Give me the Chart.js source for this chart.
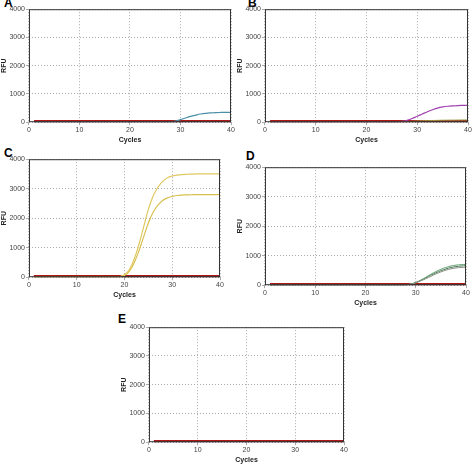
<!DOCTYPE html>
<html>
<head>
<script src="https://cdn.jsdelivr.net/npm/chart.js@4/dist/chart.umd.min.js"></script>
<style>
body { margin:0; background:#fff; font-family: "Liberation Sans", Arial, sans-serif; }
.panel { position:absolute; }
.lab { position:absolute; font-weight:bold; font-size:12px; }
</style>
</head>
<body>
<div class="lab" style="left:4px;top:-4px">A</div>
<div class="lab" style="left:248px;top:-4px">B</div>
<div class="lab" style="left:4px;top:146px">C</div>
<div class="lab" style="left:246px;top:149px">D</div>
<div class="lab" style="left:118px;top:312px">E</div>
<div class="panel" style="left:0;top:4px;width:237px;height:140px"><canvas id="cA"></canvas></div>
<div class="panel" style="left:236px;top:4px;width:238px;height:140px"><canvas id="cB"></canvas></div>
<div class="panel" style="left:0;top:154px;width:226px;height:145px"><canvas id="cC"></canvas></div>
<div class="panel" style="left:236px;top:162px;width:236px;height:145px"><canvas id="cD"></canvas></div>
<div class="panel" style="left:120px;top:322px;width:230px;height:142px"><canvas id="cE"></canvas></div>
<script>
var cycles = [1,2,3,4,5,6,7,8,9,10,11,12,13,14,15,16,17,18,19,20,21,22,23,24,25,26,27,28,29,30,31,32,33,34,35,36,37,38,39,40];
var threshold = [30,30,30,30,30,30,30,30,30,30,30,30,30,30,30,30,30,30,30,30,30,30,30,30,30,30,30,30,30,30,30,30,30,30,30,30,30,30,30,30];
var baseline = [0,0,0,0,0,0,0,0,0,0,0,0,0,0,0,0,0,0,0,0,0,0,0,0,0,0,0,0,0,0,0,0,0,0,0,0,0,0,0,0];
var aBlue = [0,0,0,0,0,0,0,0,0,0,0,0,0,0,0,0,0,0,0,0,0,0,0,0,0,0,0,10,40,90,150,205,250,290,315,330,340,345,348,350];
var bPurple = [0,0,0,0,0,0,0,0,0,0,0,0,0,0,0,0,0,0,0,0,0,0,0,0,0,10,30,70,130,210,290,370,440,500,540,565,580,590,595,600];
var bOlive = [0,0,0,0,0,0,0,0,0,0,0,0,0,0,0,0,0,0,0,0,0,0,0,0,0,0,10,20,30,40,50,55,60,65,70,72,74,76,78,80];
var cYellow1 = [0,0,0,0,0,0,0,0,0,0,0,0,0,0,0,0,0,0,20,80,250,600,1100,1700,2300,2750,3050,3250,3370,3430,3460,3480,3490,3495,3500,3500,3500,3500,3500,3500];
var cYellow2 = [0,0,0,0,0,0,0,0,0,0,0,0,0,0,0,0,0,0,15,60,200,480,880,1360,1840,2200,2440,2600,2690,2740,2770,2785,2790,2795,2800,2800,2800,2800,2800,2800];
var dGreen1 = [0,0,0,0,0,0,0,0,0,0,0,0,0,0,0,0,0,0,0,0,0,0,0,0,0,0,0,10,40,90,170,270,370,460,540,600,650,680,695,705];
var dGreen2 = [0,0,0,0,0,0,0,0,0,0,0,0,0,0,0,0,0,0,0,0,0,0,0,0,0,0,0,10,40,90,165,250,340,420,490,550,600,630,650,660];
var dGray = [0,0,0,0,0,0,0,0,0,0,0,0,0,0,0,0,0,0,0,0,0,0,0,0,0,0,0,8,35,80,145,220,300,380,450,510,555,585,600,610];
var yTicks = [0,1000,2000,3000,4000];

function ds(v, c, w) {
  return { data: v, borderColor: c, borderWidth: w || 1, pointRadius: 0, tension: 0.4, fill: false };
}
var boxPlugin = { id: 'box', afterDraw: function (ch) {
  var a = ch.chartArea, g = ch.ctx;
  g.save(); g.strokeStyle = '#333'; g.lineWidth = 1;
  g.strokeRect(a.left + 0.5, a.top + 0.5, a.right - a.left - 1, a.bottom - a.top - 1);
  g.restore();
} };
function axisOpts(min, max, title) {
  return {
    type: 'linear', min: min, max: max,
    ticks: { font: { size: 7 }, color: '#444', padding: 1, callback: function (v) { return String(v); } },
    grid: { color: '#aaa', tickLength: 3 },
    border: { display: false, dash: [1, 2] },
    title: { display: true, text: title, font: { size: 7, weight: 'bold' }, color: '#222', padding: 0 }
  };
}
function makeChart(id, curves) {
  var sets = [ds(baseline, '#333', 1)].concat(curves, [ds(threshold, '#b01818', 2.5)]);
  var x = axisOpts(0, 40, 'Cycles');
  x.ticks.stepSize = 10;
  var y = axisOpts(0, 4000, 'RFU');
  y.afterBuildTicks = function (ax) { ax.ticks = yTicks.map(function (v) { return { value: v }; }); };
  new Chart(document.getElementById(id), {
    type: 'line',
    data: { labels: cycles, datasets: sets.map(function (d) {
      d.data = d.data.map(function (v, i) { return { x: cycles[i], y: v }; }); return d; }) },
    options: {
      animation: false, responsive: true, maintainAspectRatio: false,
      plugins: { legend: { display: false }, tooltip: { enabled: false } },
      layout: { padding: { right: 6, top: 4 } },
      scales: { x: x, y: y }
    },
    plugins: [boxPlugin]
  });
}
Chart.defaults.font.family = '"Liberation Sans", Arial, sans-serif';

makeChart('cA', [ds(aBlue, '#4a8fa8', 1.2)]);
makeChart('cB', [ds(bOlive, '#9a9a40', 1), ds(bPurple, '#a040b0', 1.2)]);
makeChart('cC', [ds(cYellow1, '#e0c860', 1.2), ds(cYellow2, '#d8c050', 1.2)]);
makeChart('cD', [ds(dGray, '#889080', 1), ds(dGreen1, '#60a070', 1), ds(dGreen2, '#507858', 1)]);
makeChart('cE', []);
</script>
</body>
</html>
